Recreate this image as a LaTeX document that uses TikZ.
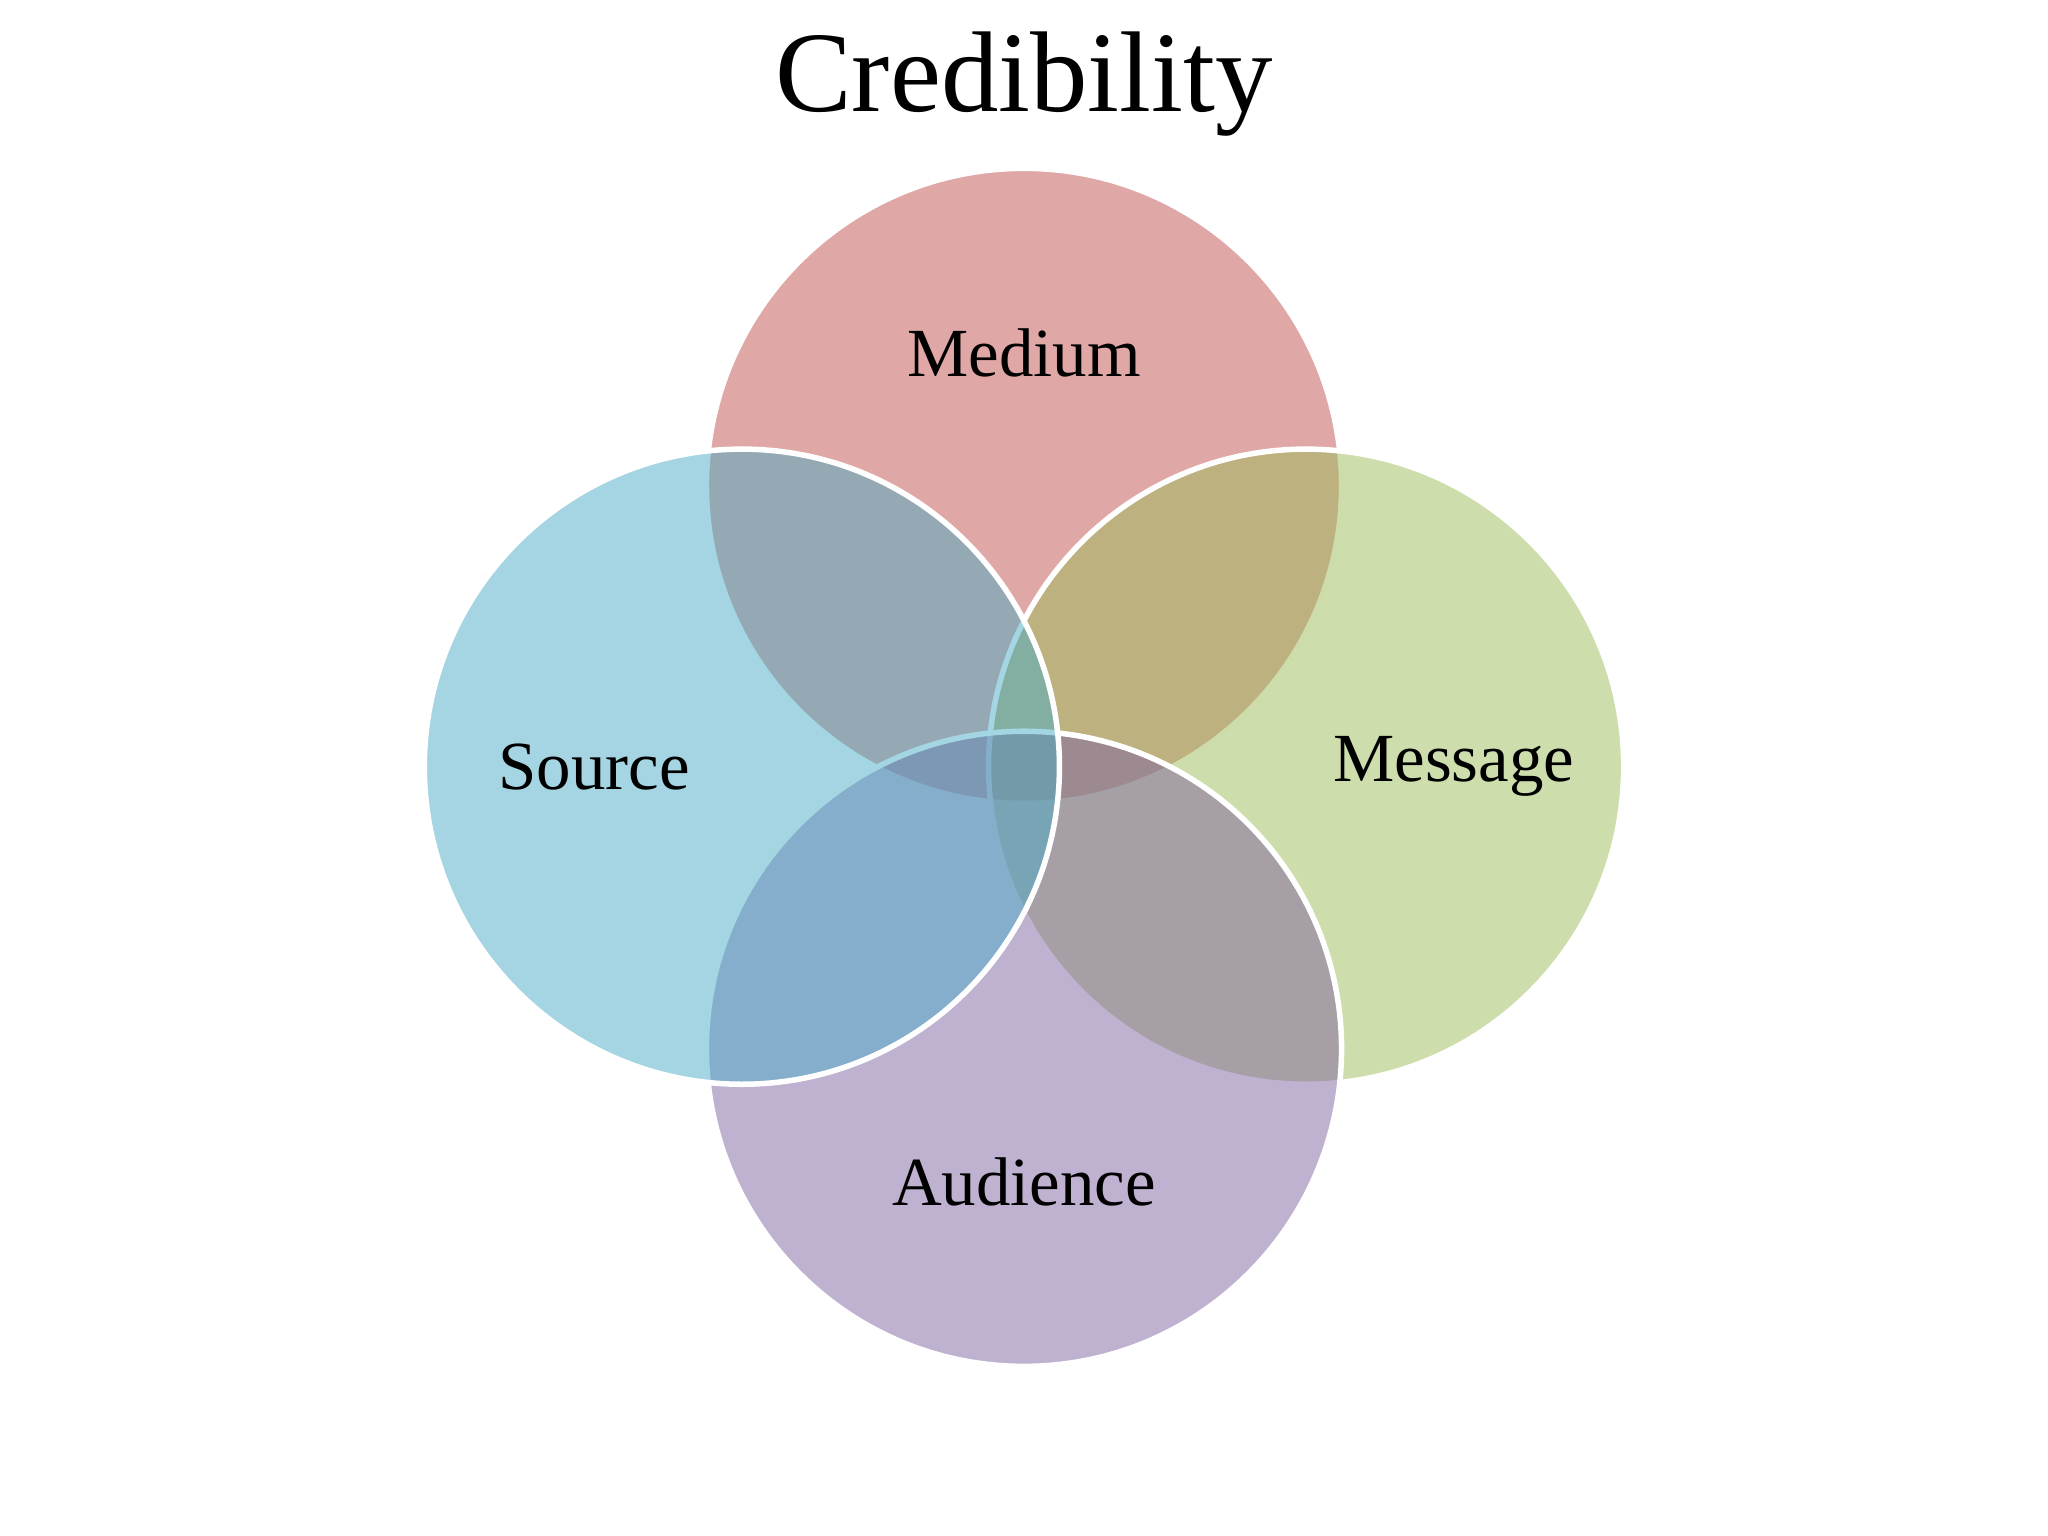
\documentclass[tikz,border=0pt]{standalone}
\usepackage{fontspec}
\setmainfont{Liberation Serif}
\definecolor{cred}{RGB}{192,80,77}
\definecolor{cblue}{RGB}{75,172,198}
\definecolor{cgreen}{RGB}{155,187,89}
\definecolor{cpurp}{RGB}{128,100,162}
\begin{document}
\begin{tikzpicture}[x=0.01cm,y=-0.01cm,
  venn/.style={circle,minimum size=4.86cm,inner sep=0pt,fill opacity=0.5,draw=white,line width=1.2pt,draw opacity=1},
  lbl/.style={font=\fontsize{15}{17}\selectfont}]
\useasboundingbox (0,0) rectangle (1568,1176);
\node[venn,fill=cred] (med) at (784,372) {};
\node[venn,fill=cgreen] (msg) at (1000,587) {};
\node[venn,fill=cpurp] (aud) at (784,803) {};
\node[venn,fill=cblue] (src) at (568,587) {};
\node[font=\fontsize{25}{28}\selectfont] (title) at (784,64) {Credibility};
\node[lbl] (lmed) at (784,270) {Medium};
\node[lbl] (lsrc) at (455,587) {Source};
\node[lbl] (lmsg) at (1113,587) {Message};
\node[lbl] (laud) at (784,905) {Audience};
\end{tikzpicture}
\end{document}
